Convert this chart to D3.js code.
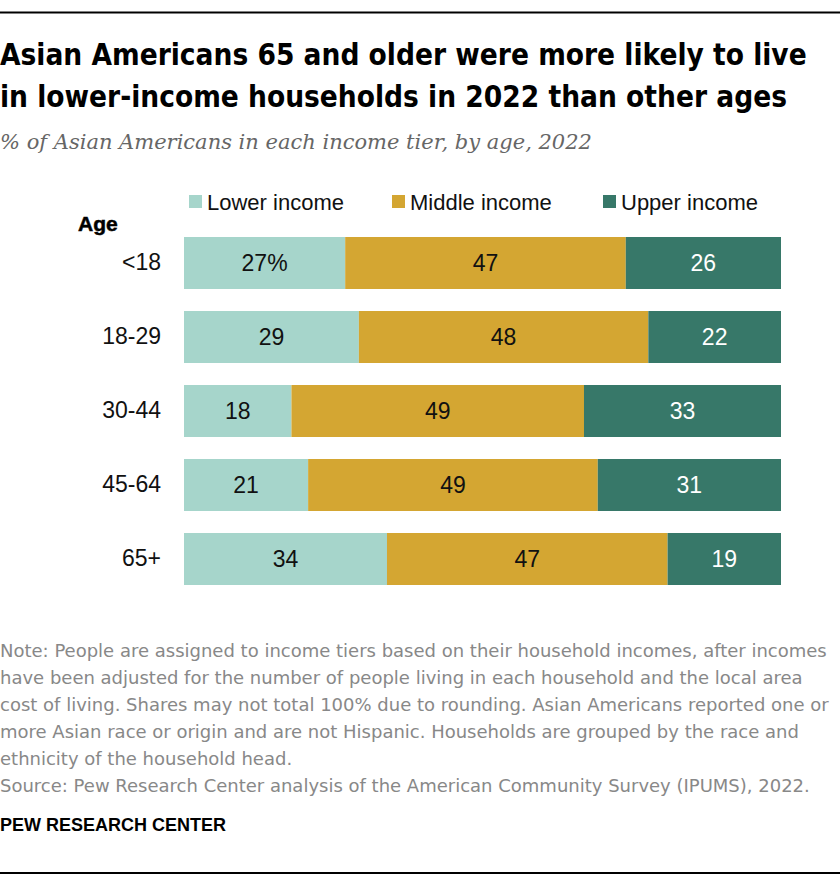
<!DOCTYPE html>
<html>
<head>
<meta charset="utf-8">
<script src="https://cdn.jsdelivr.net/npm/d3@7"></script>
<style>
body{margin:0;background:#fff;}
svg{display:block;}
</style>
</head>
<body>
<div id="chart"></div>
<script>
// data
const ages = ["<18", "18-29", "30-44", "45-64", "65+"];
const tiers = ["Lower income", "Middle income", "Upper income"];
const lowerVals = [27, 29, 18, 21, 34];
const middleVals = [47, 48, 49, 49, 47];
const upperVals = [26, 22, 33, 31, 19];
const tierColors = ["#a6d5cb", "#d4a632", "#377869"];
const labelColors = ["#111", "#111", "#fff"];

const W = 840, H = 880;
const svg = d3.select("#chart").append("svg")
  .attr("width", W).attr("height", H);

const bodyFont = "'Liberation Sans',Arial,sans-serif";
const titleFont = "'DejaVu Sans Condensed','DejaVu Sans',sans-serif";
const noteFont = "'DejaVu Sans',Verdana,sans-serif";

// top / bottom rules
svg.append("line").attr("x1", 0).attr("x2", W).attr("y1", 12.5).attr("y2", 12.5)
  .attr("stroke", "#000").attr("stroke-width", 2);
svg.append("line").attr("x1", 0).attr("x2", W).attr("y1", 873).attr("y2", 873)
  .attr("stroke", "#000").attr("stroke-width", 2);

// title
const titleLines = [
  "Asian Americans 65 and older were more likely to live",
  "in lower-income households in 2022 than other ages"
];
svg.append("g").selectAll("text").data(titleLines).join("text")
  .attr("x", 0).attr("y", (d, i) => 65 + i * 42)
  .style("font", `bold 29.5px ${titleFont}`)
  .attr("fill", "#000")
  .text(d => d);
svg.append("text").attr("x", 0).attr("y", 149)
  .style("font", `italic 21px 'DejaVu Serif','Liberation Serif',Georgia,serif`)
  .attr("fill", "#666")
  .text("% of Asian Americans in each income tier, by age, 2022");

// table for stacking
const table = ages.map((a, i) => ({
  age: a,
  "Lower income": lowerVals[i],
  "Middle income": middleVals[i],
  "Upper income": upperVals[i]
}));
const series = d3.stack().keys(tiers).offset(d3.stackOffsetExpand)(table);

const x = d3.scaleLinear().domain([0, 1]).range([184, 781]);
const y = d3.scaleBand().domain(ages).range([237, 585]).paddingInner(22 / 74).paddingOuter(0);
const color = d3.scaleOrdinal().domain(tiers).range(tierColors);

// legend
const legX = [189, 392, 603];
const leg = svg.append("g").selectAll("g").data(tiers).join("g")
  .attr("transform", (d, i) => `translate(${legX[i]},202)`);
leg.append("rect").attr("x", 0).attr("y", -7).attr("width", 13).attr("height", 13)
  .attr("fill", d => color(d));
leg.append("text").attr("x", 18).attr("y", 8)
  .style("font", `22px ${bodyFont}`).attr("fill", "#111")
  .text(d => d);

// axis header
svg.append("text").attr("x", 78).attr("y", 231)
  .style("font", `bold 21px ${bodyFont}`).attr("fill", "#000")
  .attr("stroke", "#000").attr("stroke-width", 0.5).text("Age");

// y axis labels
svg.append("g")
  .attr("transform", "translate(161,0)")
  .call(d3.axisLeft(y).tickSize(0).tickPadding(0))
  .call(g => g.select(".domain").remove())
  .selectAll("text")
  .style("font", `23px ${bodyFont}`).attr("fill", "#111");

// bars
const layers = svg.append("g").selectAll("g").data(series).join("g")
  .attr("fill", d => color(d.key));
layers.selectAll("rect").data(d => d).join("rect")
  .attr("x", d => x(d[0]))
  .attr("y", d => y(d.data.age))
  .attr("width", d => x(d[1]) - x(d[0]))
  .attr("height", y.bandwidth());

// value labels
series.forEach((s, si) => {
  svg.append("g").selectAll("text").data(s).join("text")
    .attr("x", d => (x(d[0]) + x(d[1])) / 2)
    .attr("y", d => y(d.data.age) + y.bandwidth() / 2 + 8)
    .attr("text-anchor", "middle")
    .style("font", `23px ${bodyFont}`)
    .attr("fill", labelColors[si])
    .text((d, i) => d.data[s.key] + (si === 0 && i === 0 ? "%" : ""));
});

// notes
const notes = [
  "Note: People are assigned to income tiers based on their household incomes, after incomes",
  "have been adjusted for the number of people living in each household and the local area",
  "cost of living. Shares may not total 100% due to rounding. Asian Americans reported one or",
  "more Asian race or origin and are not Hispanic. Households are grouped by the race and",
  "ethnicity of the household head.",
  "Source: Pew Research Center analysis of the American Community Survey (IPUMS), 2022."
];
svg.append("g").selectAll("text").data(notes).join("text")
  .attr("x", 0).attr("y", (d, i) => 657 + i * 27)
  .style("font", `18px ${noteFont}`).attr("fill", "#888")
  .text(d => d);
svg.append("text").attr("x", 0).attr("y", 831)
  .style("font", `bold 18px ${bodyFont}`).attr("fill", "#000")
  .text("PEW RESEARCH CENTER");
</script>
</body>
</html>
